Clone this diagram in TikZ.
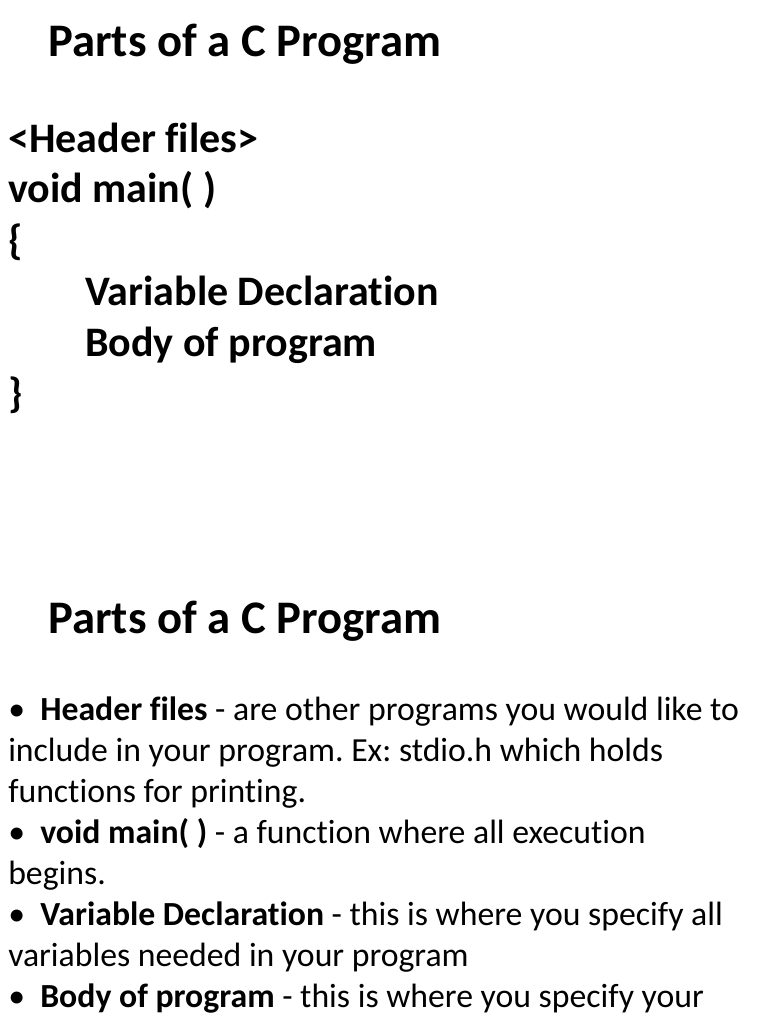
\documentclass[tikz,border=0pt]{standalone}
\usepackage{fontspec}
\setmainfont[Ligatures=NoCommon]{Carlito}
\begin{document}
\frenchspacing
\begin{tikzpicture}[x=0.75pt,y=-0.75pt,
  ttl/.style={anchor=base west,inner sep=0,font=\bfseries\fontsize{35}{40}\selectfont},
  code/.style={anchor=base west,inner sep=0,font=\bfseries\fontsize{31.5}{36}\selectfont},
  txt/.style={anchor=base west,inner sep=0,font=\fontsize{25.3}{30}\selectfont}]
\useasboundingbox (0,0) rectangle (768,1024);
\node[ttl] (t1) at (48,57) {Parts of a C Program};
\node[code] (c1) at (8,152) {<Header files>};
\node[code] (c2) at (8,202) {void main( )};
\node[code] (c3) at (8,254) {\{};
\node[code] (c4) at (85,305) {Variable Declaration};
\node[code] (c5) at (85,356) {Body of program};
\node[code] (c6) at (8,407) {\}};
\node[ttl] (t2) at (48,633) {Parts of a C Program};
\node[txt] (b1) at (8,720) {•\ \ \textbf{Header files} - are other programs you would like to};
\node[txt] (b2) at (8,761) {include in your program. Ex: stdio.h which holds};
\node[txt] (b3) at (8,802) {functions for printing.};
\node[txt] (b4) at (8,843) {•\ \ \textbf{void main( )} - a function where all execution};
\node[txt] (b5) at (8,884) {begins.};
\node[txt] (b6) at (8,925) {•\ \ \textbf{Variable Declaration} - this is where you specify all};
\node[txt] (b7) at (8,966) {variables needed in your program};
\node[txt] (b8) at (8,1007) {•\ \ \textbf{Body of program} - this is where you specify your};
\end{tikzpicture}
\end{document}
